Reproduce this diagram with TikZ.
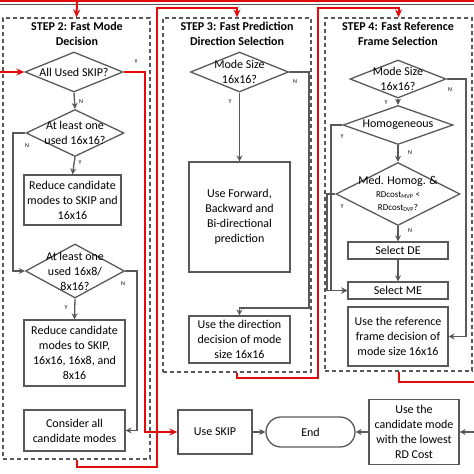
\documentclass[tikz,border=0pt]{standalone}
\usepackage{fontspec}
\setmainfont{Carlito}
\usetikzlibrary{shapes.geometric,arrows.meta}
\definecolor{lgray}{RGB}{89,89,89}
\definecolor{fred}{RGB}{226,12,12}
\begin{document}
\begin{tikzpicture}[x=1pt,y=-1pt,>={Stealth[length=6pt,width=6pt]}]
	\tikzset{every node/.style={font=\fontsize{12}{15}\selectfont,align=center,inner sep=0pt}}
	\tikzset{box/.style={draw=lgray,line width=1.3pt,fill=white},
		dia/.style={draw=lgray,line width=1.3pt,shape=diamond,inner sep=0pt},
		dlab/.style={label={center:#1}},
		stepbox/.style={draw=lgray,line width=1.2pt,dash pattern=on 4pt off 3pt},
		gline/.style={draw=lgray,line width=1.3pt},
		rline/.style={draw=fred,line width=2pt,>={Stealth[length=8pt,width=7pt]}},
		yn/.style={font=\fontsize{6}{6}\selectfont},
		title/.style={font=\fontsize{12}{15}\selectfont\bfseries}}
	\useasboundingbox (0,0) rectangle (474,474);
	\draw[rline] (0,1)--(474,1);
	\draw[gline] (0,4.5)--(474,4.5);
	\coordinate (top2) at (77,1);
	\coordinate (lin) at (0,72);
	\coordinate (out4) at (474,382);
	\coordinate (rin) at (474,432);
	% step 2
	\node[stepbox,minimum width=147,minimum height=441] (s2) at (76.5,238.5) {};
	\node[title] (t2) at (77,33.5) {STEP 2: Fast Mode\\Decision};
	\node[dia,minimum width=98,minimum height=40,dlab={All Used SKIP?}] (d1) at (74,72) {};
	\node[dia,minimum width=98,minimum height=47,dlab={At least one\\used 16x16?}] (d2) at (75,133) {};
	\node[box,minimum width=97,minimum height=50] (r1) at (72.5,200) {Reduce candidate\\modes to SKIP and\\16x16};
	\node[dia,minimum width=99,minimum height=54,dlab={At least one\\used 16x8/\\8x16?}] (d3) at (75,271) {};
	\node[box,minimum width=101,minimum height=66] (r2) at (74.5,353) {Reduce candidate\\modes to SKIP,\\16x16, 16x8, and\\8x16};
	\node[box,minimum width=101,minimum height=41] (cons) at (74.5,430.5) {Consider all\\candidate modes};
	\node[yn] (y1) at (136,62) {Y};
	\node[yn] (n1) at (81,102) {N};
	\node[yn] (n2) at (27,146) {N};
	\node[yn] (y2) at (80,163) {Y};
	\node[yn] (n3) at (123,284) {N};
	\node[yn] (y3) at (66,308) {Y};
	% step 3
	\node[stepbox,minimum width=148,minimum height=354] (s3) at (237,195) {};
	\node[title] (t3) at (237,33.5) {STEP 3: Fast Prediction\\Direction Selection};
	\node[dia,minimum width=98,minimum height=40,dlab={Mode Size\\16x16?}] (m3) at (239.5,72) {};
	\node[box,minimum width=101,minimum height=110] (fwd) at (239.5,217) {Use Forward,\\Backward and\\Bi-directional\\prediction};
	\node[box,minimum width=101,minimum height=47] (dir) at (239.5,339.5) {Use the direction\\decision of mode\\size 16x16};
	\node[yn] (n4) at (295,82) {N};
	\node[yn] (y4) at (230,102) {Y};
	% step 4
	\node[stepbox,minimum width=147,minimum height=353] (s4) at (398.5,194.5) {};
	\node[title] (t4) at (398,33.5) {STEP 4: Fast Reference\\Frame Selection};
	\node[dia,minimum width=96,minimum height=38,dlab={Mode Size\\16x16?}] (m4) at (398,79) {};
	\node[dia,minimum width=110,minimum height=39,dlab={Homogeneous}] (hom) at (398,125) {};
	\node[dia,minimum width=124,minimum height=63,dlab={Med. Homog. \&\\[-2pt]{\fontsize{9}{11}\selectfont RDcost\textsubscript{MVP} <}\\[-2pt]{\fontsize{9}{11}\selectfont RDcost\textsubscript{DVP}?}}] (med) at (398,194) {};
	\node[box,minimum width=100,minimum height=17] (sde) at (398,250.5) {Select DE};
	\node[box,minimum width=100,minimum height=17] (sme) at (398,290.5) {Select ME};
	\node[box,minimum width=100,minimum height=59] (ref) at (398,336.5) {Use the reference\\frame decision of\\mode size 16x16};
	\node[yn] (n5) at (450,90) {N};
	\node[yn] (y5) at (386,103) {Y};
	\node[yn] (y6) at (342,137) {Y};
	\node[yn] (n6) at (410,153) {N};
	\node[yn] (y7) at (342,207) {Y};
	\node[yn] (n7) at (410,231) {N};
	% bottom row
	\node[box,minimum width=74,minimum height=44] (skip) at (215,432) {Use SKIP};
	\node[box,rounded corners=15pt,minimum width=89,minimum height=30] (stop) at (310.5,432) {End};
	\node[box,minimum width=90,minimum height=65] (cand) at (414,432) {Use the\\candidate mode\\with the lowest\\RD Cost};
	% connectors
	\draw[rline,->] (top2)--(s2.north);
	\draw[rline,->] (lin)--(d1.west);
	\draw[rline,->] (d1.east)--(145,72)--(145,432)--(skip.west);
	\draw[gline,->] (d1.south)--(d2.north);
	\draw[gline,->] (d2.south)--(r1.north);
	\draw[gline,->] (d2.west)-|(13,271)--(d3.west);
	\draw[gline,->] (d3.south)--(r2.north);
	\draw[gline,->] (d3.east)-|(137,430.5)--(cons.east);
	\draw[rline,->] (s2.south)|-(157,467)--(157,8)-|(s3.north);
	\draw[gline,->] (m3.south)--(fwd.north);
	\draw[gline,->] (m3.east)-|(309,308)-|(dir.north);
	\draw[rline,->] (s3.south)|-(318,378)--(318,8)-|(s4.north);
	\draw[gline,->] (m4.south)--(hom.north);
	\draw[gline,->] (m4.east)-|(466,336.5)--(ref.east);
	\draw[gline,->] (hom.south)--(med.north);
	\draw[gline,->] (hom.west)-|(331,290.5)--(sme.west);
	\draw[gline,->] (med.west)-|(327,290.5)--(sme.west);
	\draw[gline,->] (med.south)--(sde.north);
	\draw[gline,->] (sde.south)--(sme.north);
	\draw[rline] (s4.south)|-(out4);
	\draw[gline,->] (skip.east)--(stop.west);
	\draw[gline,->] (cand.west)--(stop.east);
	\draw[gline,->] (rin)--(cand.east);
\end{tikzpicture}
\end{document}
